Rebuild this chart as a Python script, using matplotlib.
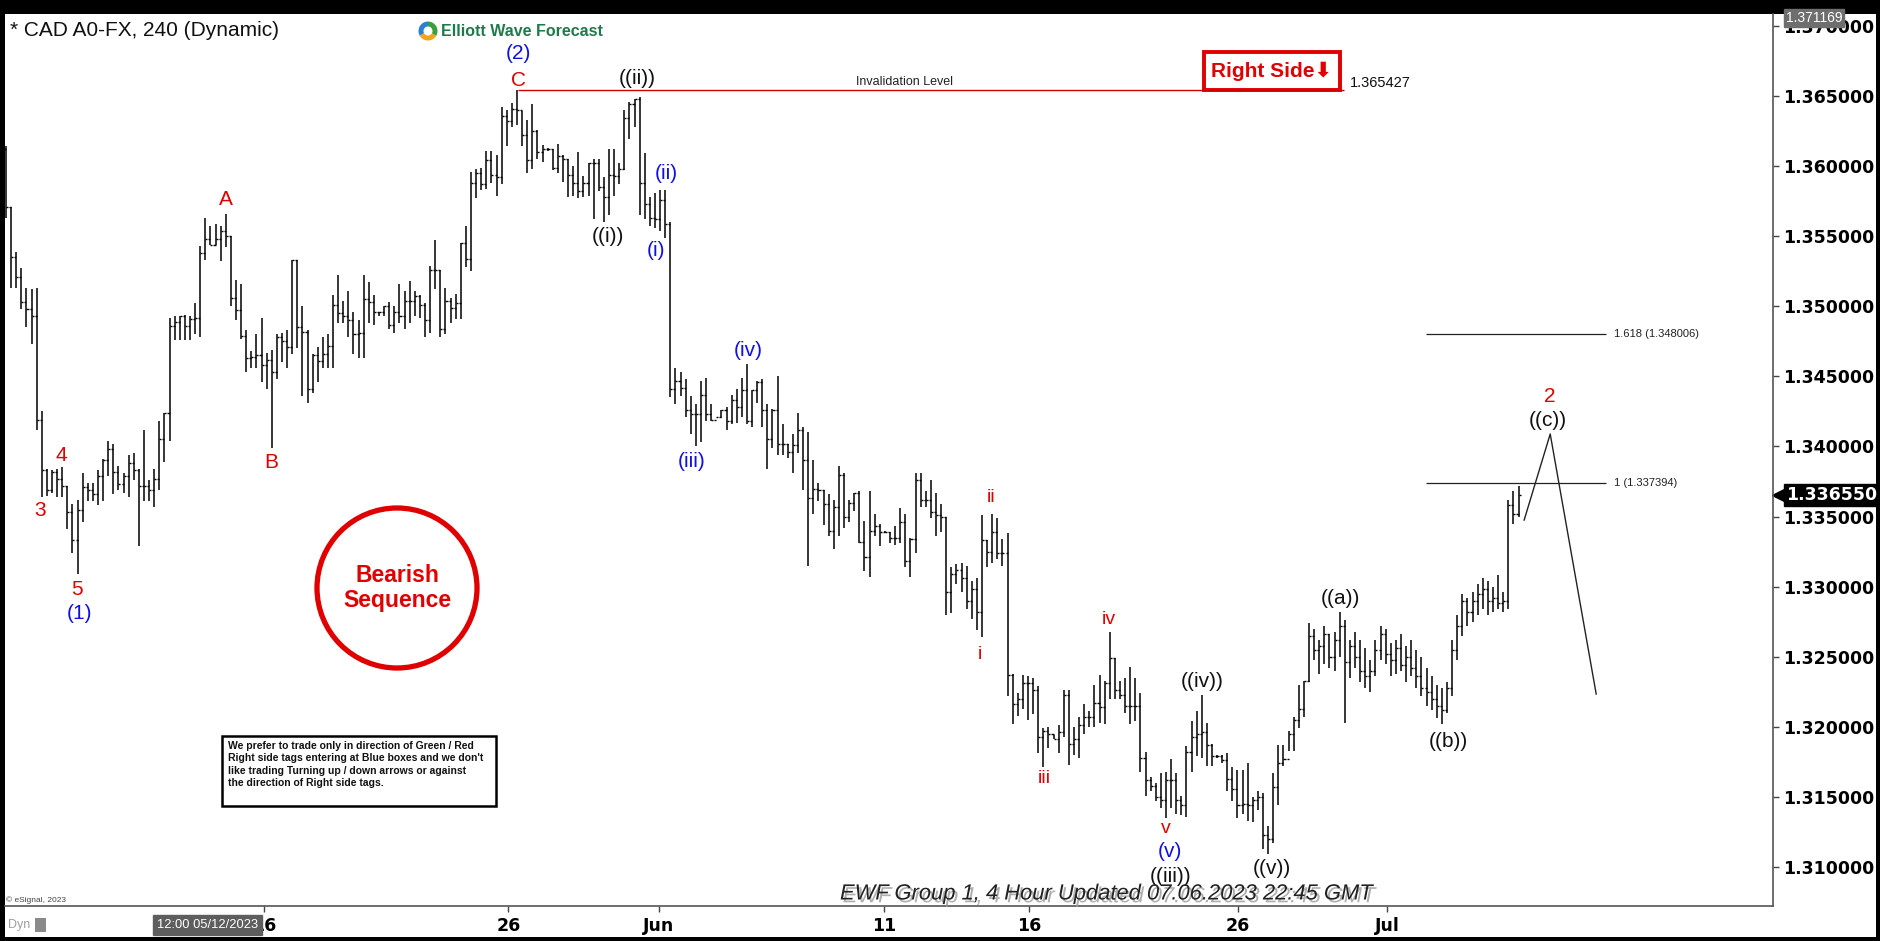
import numpy as np
import matplotlib.pyplot as plt
from matplotlib import patches
import matplotlib.patheffects as pe
from matplotlib.transforms import blended_transform_factory

plt.rcParams['font.family'] = ['Liberation Sans', 'DejaVu Sans']

W, H = 1881, 941

# 4 hour bars (high / low / close)
highs = [
    1.3614, 1.3571, 1.3539, 1.3527, 1.3513, 1.3512, 1.3513, 1.3425, 1.3384, 1.3383,
    1.3384, 1.3385, 1.3372, 1.3359, 1.3362, 1.3381, 1.3374, 1.3374, 1.3383, 1.3391,
    1.3404, 1.3402, 1.3386, 1.3381, 1.3394, 1.3395, 1.3384, 1.3412, 1.3376, 1.3384,
    1.3418, 1.3424, 1.3492, 1.3493, 1.3493, 1.3494, 1.3493, 1.3502, 1.3543, 1.3563,
    1.3557, 1.3559, 1.3557, 1.3566, 1.3550, 1.3519, 1.3516, 1.3483, 1.3468, 1.3480,
    1.3492, 1.3467, 1.3469, 1.3480, 1.3481, 1.3483, 1.3533, 1.3533, 1.3500, 1.3483,
    1.3466, 1.3471, 1.3478, 1.3480, 1.3508, 1.3522, 1.3504, 1.3511, 1.3496, 1.3490,
    1.3522, 1.3517, 1.3508, 1.3496, 1.3500, 1.3503, 1.3500, 1.3516, 1.3511, 1.3518,
    1.3511, 1.3508, 1.3502, 1.3529, 1.3547, 1.3526, 1.3513, 1.3506, 1.3509, 1.3545,
    1.3557, 1.3596, 1.3598, 1.3599, 1.3611, 1.3611, 1.3608, 1.3642, 1.3640, 1.3645,
    1.36543, 1.3639, 1.3633, 1.3644, 1.3626, 1.3615, 1.3613, 1.3612, 1.3616, 1.3608,
    1.3605, 1.3600, 1.3610, 1.3593, 1.3602, 1.3605, 1.3605, 1.3592, 1.3612, 1.3612,
    1.3602, 1.3640, 1.3646, 1.3648, 1.3649, 1.3609, 1.3578, 1.3581, 1.3583, 1.3583,
    1.3560, 1.3456, 1.3453, 1.3448, 1.3436, 1.3430, 1.3447, 1.3449, 1.3430, 1.3421,
    1.3426, 1.3428, 1.3437, 1.3441, 1.3449, 1.3459, 1.3440, 1.3447, 1.3448, 1.3430,
    1.3427, 1.3450, 1.3416, 1.3402, 1.3409, 1.3424, 1.3414, 1.3410, 1.3390, 1.3374,
    1.3369, 1.3366, 1.3362, 1.3386, 1.3381, 1.3362, 1.3367, 1.3368, 1.3347, 1.3368,
    1.3352, 1.3345, 1.3340, 1.3339, 1.3343, 1.3356, 1.3352, 1.3335, 1.3381, 1.3381,
    1.3368, 1.3376, 1.3367, 1.3359, 1.3350, 1.3314, 1.3316, 1.3317, 1.3315, 1.3304,
    1.3306, 1.3351, 1.3333, 1.3352, 1.3349, 1.3334, 1.3338, 1.3238, 1.3224, 1.3237,
    1.3236, 1.3235, 1.3229, 1.3199, 1.3200, 1.3194, 1.3201, 1.3226, 1.3226, 1.3200,
    1.3207, 1.3216, 1.3211, 1.3230, 1.3237, 1.3233, 1.3268, 1.3249, 1.3233, 1.3235,
    1.3243, 1.3235, 1.3224, 1.3182, 1.3164, 1.3160, 1.3167, 1.3168, 1.3177, 1.3167,
    1.3151, 1.3186, 1.3204, 1.3211, 1.3223, 1.3203, 1.3188, 1.3180, 1.3180, 1.3181,
    1.3171, 1.3169, 1.3169, 1.3174, 1.3150, 1.3154, 1.3153, 1.3129, 1.3167, 1.3187,
    1.3187, 1.3197, 1.3207, 1.3230, 1.3233, 1.3274, 1.3270, 1.3262, 1.3272, 1.3266,
    1.3268, 1.3282, 1.3276, 1.3262, 1.3268, 1.3262, 1.3256, 1.3248, 1.3262, 1.3272,
    1.3270, 1.3260, 1.3262, 1.3266, 1.3258, 1.3262, 1.3255, 1.3250, 1.3242, 1.3236,
    1.3230, 1.3228, 1.3232, 1.3262, 1.3280, 1.3295, 1.3292, 1.3296, 1.3302, 1.3306,
    1.3304, 1.3300, 1.3308, 1.3296, 1.3362, 1.3368, 1.3372,
]
lows = [
    1.3563, 1.3513, 1.3513, 1.3498, 1.3485, 1.3473, 1.3412, 1.3364, 1.3365, 1.3367,
    1.3364, 1.3364, 1.3341, 1.3324, 1.3309, 1.3346, 1.3361, 1.3361, 1.3358, 1.3361,
    1.3379, 1.3366, 1.3369, 1.3367, 1.3364, 1.3376, 1.3329, 1.3361, 1.3361, 1.3357,
    1.3369, 1.3389, 1.3404, 1.3476, 1.3476, 1.3476, 1.3476, 1.3480, 1.3478, 1.3533,
    1.3544, 1.3544, 1.3532, 1.3542, 1.3500, 1.3490, 1.3477, 1.3453, 1.3456, 1.3456,
    1.3446, 1.3441, 1.3399, 1.3448, 1.3460, 1.3456, 1.3466, 1.3470, 1.3436, 1.3431,
    1.3438, 1.3446, 1.3456, 1.3456, 1.3456, 1.3488, 1.3488, 1.3478, 1.3466, 1.3463,
    1.3463, 1.3488, 1.3487, 1.3493, 1.3493, 1.3484, 1.3481, 1.3488, 1.3484, 1.3488,
    1.3493, 1.3492, 1.3478, 1.3481, 1.3512, 1.3478, 1.3480, 1.3488, 1.3491, 1.3491,
    1.3528, 1.3525, 1.3577, 1.3583, 1.3584, 1.3588, 1.3579, 1.3587, 1.3614, 1.3628,
    1.3629, 1.3614, 1.3595, 1.3598, 1.3605, 1.3603, 1.3611, 1.3597, 1.3595, 1.3589,
    1.3578, 1.3579, 1.3577, 1.3578, 1.3579, 1.3562, 1.3582, 1.3560, 1.3565, 1.3579,
    1.3587, 1.3597, 1.3619, 1.3628, 1.3565, 1.3562, 1.3557, 1.3556, 1.3554, 1.3549,
    1.3435, 1.3430, 1.3436, 1.3421, 1.3409, 1.3400, 1.3403, 1.3418, 1.3418, 1.3421,
    1.3420, 1.3412, 1.3416, 1.3417, 1.3421, 1.3416, 1.3414, 1.3431, 1.3414, 1.3384,
    1.3399, 1.3394, 1.3394, 1.3392, 1.3381, 1.3395, 1.3369, 1.3315, 1.3352, 1.3361,
    1.3344, 1.3336, 1.3327, 1.3336, 1.3342, 1.3346, 1.3354, 1.3331, 1.3311, 1.3307,
    1.3336, 1.3329, 1.3338, 1.3331, 1.3330, 1.3331, 1.3314, 1.3307, 1.3324, 1.3357,
    1.3357, 1.3349, 1.3336, 1.3339, 1.3280, 1.3281, 1.3302, 1.3296, 1.3284, 1.3277,
    1.3269, 1.3264, 1.3314, 1.3317, 1.3320, 1.3315, 1.3222, 1.3202, 1.3208, 1.3213,
    1.3205, 1.3209, 1.3181, 1.3171, 1.3185, 1.3191, 1.3181, 1.3193, 1.3173, 1.3180,
    1.3178, 1.3195, 1.3200, 1.3200, 1.3203, 1.3202, 1.3220, 1.3220, 1.3220, 1.3210,
    1.3202, 1.3204, 1.3168, 1.3151, 1.3154, 1.3147, 1.3142, 1.3135, 1.3142, 1.3138,
    1.3137, 1.3136, 1.3168, 1.3179, 1.3178, 1.3172, 1.3172, 1.3178, 1.3174, 1.3154,
    1.3147, 1.3135, 1.3138, 1.3133, 1.3132, 1.3141, 1.3113, 1.3109, 1.3117, 1.3144,
    1.3172, 1.3183, 1.3183, 1.3199, 1.3207, 1.3232, 1.3248, 1.3238, 1.3245, 1.3242,
    1.3240, 1.3250, 1.3203, 1.3235, 1.3242, 1.3232, 1.3228, 1.3225, 1.3236, 1.3248,
    1.3245, 1.3236, 1.3238, 1.3240, 1.3232, 1.3236, 1.3228, 1.3222, 1.3215, 1.3212,
    1.3206, 1.3202, 1.3210, 1.3222, 1.3248, 1.3265, 1.3272, 1.3275, 1.3280, 1.3284,
    1.3280, 1.3282, 1.3284, 1.3282, 1.3284, 1.3345, 1.3350,
]
closes = [
    1.3571, 1.3535, 1.3521, 1.3503, 1.3498, 1.3493, 1.3419, 1.3383, 1.3369, 1.3382,
    1.3377, 1.3372, 1.3353, 1.3333, 1.3355, 1.3371, 1.3369, 1.3366, 1.3379, 1.3390,
    1.3398, 1.3382, 1.3373, 1.3379, 1.3388, 1.3383, 1.3372, 1.3372, 1.3369, 1.3377,
    1.3405, 1.3424, 1.3486, 1.3489, 1.3493, 1.3486, 1.3491, 1.3492, 1.3538, 1.3548,
    1.3544, 1.3548, 1.3554, 1.3550, 1.3506, 1.3497, 1.3479, 1.3463, 1.3464, 1.3465,
    1.3458, 1.3462, 1.3453, 1.3478, 1.3475, 1.3471, 1.3533, 1.3485, 1.3482, 1.3441,
    1.3465, 1.3461, 1.3466, 1.3472, 1.3501, 1.3495, 1.3493, 1.3490, 1.3480, 1.3481,
    1.3505, 1.3503, 1.3496, 1.3496, 1.3500, 1.3487, 1.3496, 1.3493, 1.3504, 1.3504,
    1.3507, 1.3501, 1.3490, 1.3526, 1.3526, 1.3484, 1.3504, 1.3499, 1.3502, 1.3545,
    1.3534, 1.3588, 1.3595, 1.3587, 1.3604, 1.3594, 1.3592, 1.3636, 1.3632, 1.3641,
    1.3640, 1.3622, 1.3604, 1.3625, 1.3610, 1.3612, 1.3612, 1.3599, 1.3607, 1.3605,
    1.3594, 1.3588, 1.3582, 1.3588, 1.3602, 1.3602, 1.3585, 1.3578, 1.3594, 1.3593,
    1.3598, 1.3634, 1.3644, 1.3648, 1.3588, 1.3573, 1.3563, 1.3562, 1.3576, 1.3559,
    1.3441, 1.3447, 1.3442, 1.3426, 1.3423, 1.3423, 1.3437, 1.3423, 1.3419, 1.3421,
    1.3426, 1.3418, 1.3433, 1.3428, 1.3440, 1.3418, 1.3440, 1.3446, 1.3426, 1.3405,
    1.3426, 1.3402, 1.3402, 1.3396, 1.3401, 1.3412, 1.3390, 1.3363, 1.3370, 1.3369,
    1.3359, 1.3340, 1.3357, 1.3380, 1.3350, 1.3360, 1.3367, 1.3332, 1.3321, 1.3340,
    1.3343, 1.3339, 1.3339, 1.3335, 1.3335, 1.3346, 1.3318, 1.3334, 1.3376, 1.3362,
    1.3362, 1.3353, 1.3351, 1.3350, 1.3296, 1.3309, 1.3312, 1.3306, 1.3290, 1.3298,
    1.3282, 1.3333, 1.3325, 1.3339, 1.3324, 1.3324, 1.3237, 1.3216, 1.3220, 1.3231,
    1.3231, 1.3226, 1.3193, 1.3197, 1.3195, 1.3191, 1.3196, 1.3223, 1.3188, 1.3191,
    1.3201, 1.3207, 1.3207, 1.3217, 1.3214, 1.3231, 1.3249, 1.3226, 1.3223, 1.3215,
    1.3215, 1.3215, 1.3178, 1.3162, 1.3158, 1.3150, 1.3148, 1.3162, 1.3162, 1.3148,
    1.3144, 1.3182, 1.3193, 1.3195, 1.3196, 1.3187, 1.3179, 1.3179, 1.3176, 1.3163,
    1.3156, 1.3144, 1.3145, 1.3144, 1.3148, 1.3150, 1.3123, 1.3120, 1.3157, 1.3174,
    1.3177, 1.3195, 1.3205, 1.3213, 1.3233, 1.3265, 1.3255, 1.3258, 1.3266, 1.3250,
    1.3262, 1.3272, 1.3246, 1.3258, 1.3250, 1.3240, 1.3236, 1.3240, 1.3255, 1.3266,
    1.3252, 1.3248, 1.3256, 1.3244, 1.3250, 1.3242, 1.3236, 1.3228, 1.3225, 1.3220,
    1.3215, 1.3212, 1.3228, 1.3255, 1.3272, 1.3290, 1.3282, 1.3290, 1.3295, 1.3298,
    1.3290, 1.3292, 1.3288, 1.3290, 1.3358, 1.3352, 1.33655,
]
first_open = 1.3612
opens = [first_open] + closes[:-1]

date_ticks = [50.5, 98.3, 127.8, 171.8, 200.2, 241.1, 270.3]
date_labels = ['16', '26', 'Jun', '11', '16', '26', 'Jul']

invalidation = 1.365427
fib_levels = [1.348006, 1.337394]
fib_names = ['1.618 (1.348006)', '1 (1.337394)']
last_price = 1.33655
top_price = 1.371169

# projected path for wave 2 and the turn lower
proj_x = [297.1, 302.2, 311.2]
proj_y = [1.33475, 1.34089, 1.32234]

# wave labels: text, bar position, price, colour, size
RED, BLUE, BLK = '#e10000', '#1010e0', '#111111'
wave_labels = [
    ('(2)', 100.2, 1.36800, BLUE, 15), ('C', 100.2, 1.36614, RED, 15),
    ('((ii))', 123.5, 1.36628, BLK, 15), ('A', 43.1, 1.35765, RED, 15),
    ('B', 51.9, 1.33889, RED, 15), ('3', 6.7, 1.33540, RED, 15),
    ('4', 10.8, 1.33939, RED, 15), ('5', 13.9, 1.32983, RED, 15),
    ('(1)', 14.3, 1.32805, BLUE, 15), ('((i))', 117.8, 1.35501, BLK, 15),
    ('(i)', 127.2, 1.35401, BLUE, 15), ('(ii)', 129.2, 1.35944, BLUE, 15),
    ('(iii)', 134.1, 1.33896, BLUE, 15), ('(iv)', 145.2, 1.34688, BLUE, 15),
    ('ii', 192.8, 1.33639, RED, 14), ('i', 190.6, 1.32519, RED, 14),
    ('iii', 203.1, 1.31635, RED, 14), ('iv', 215.9, 1.32769, RED, 14),
    ('v', 227.0, 1.31278, RED, 14), ('(v)', 227.8, 1.31114, BLUE, 15),
    ('((iii))', 228.0, 1.30929, BLK, 15), ('((iv))', 234.1, 1.32320, BLK, 15),
    ('((v))', 247.8, 1.30993, BLK, 15), ('((a))', 261.1, 1.32919, BLK, 15),
    ('((b))', 282.2, 1.31892, BLK, 15), ('2', 302.2, 1.34360, RED, 15),
    ('((c))', 301.8, 1.34182, BLK, 15),
]


def fpx(x, y):
    return x / W, 1 - y / H


def inch(x, y):
    return x / 100, (H - y) / 100


fig = plt.figure(figsize=(W / 100, H / 100), dpi=100, facecolor='black')
fig.add_artist(patches.Rectangle(fpx(5, 937), 1871 / W, 923 / H,
                                 transform=fig.transFigure, fc='white', ec='none', zorder=-10))

ax = fig.add_axes([5 / W, (H - 906) / H, 1768 / W, 892 / H])
ax.set_facecolor('white')
ax.set_xlim(-0.2, 345.8)
ax.set_ylim(1.30722, 1.37085)

x = np.arange(len(highs))
ax.vlines(x, lows, highs, color='black', lw=1.1)
ax.hlines(opens, x - 0.4, x, color='black', lw=1.0)
ax.hlines(closes, x, x + 0.4, color='black', lw=1.0)

# invalidation level
ax.hlines(invalidation, 100.2, 261.8, color='#d00000', lw=1.0)
ax.text(175.9, 1.36600, 'Invalidation Level', fontsize=9, ha='center', va='center', color='#222')
ax.text(263.0, 1.36590, '1.365427', fontsize=10.5, ha='left', va='center', color='#111')

# right side tag
ax.add_patch(patches.Rectangle((234.4, 1.36543), 26.7, 0.00271, fc='white', ec='#e00000', lw=2.8))
ax.text(247.7, 1.36678, 'Right Side\u2b07', color='#e00000', fontsize=15, fontweight='bold',
        ha='center', va='center', family=['Liberation Sans', 'DejaVu Sans'])

# fibonacci extensions
for lvl, name in zip(fib_levels, fib_names):
    ax.hlines(lvl, 277.9, 313.1, color='#222', lw=0.9)
    ax.text(314.6, lvl, name, fontsize=8, ha='left', va='center', color='#222')

ax.plot(proj_x, proj_y, color='#222', lw=1.0)

for s, lx, ly, c, fs in wave_labels:
    ax.text(lx, ly, s, color=c, fontsize=fs, ha='center', va='center')

# axes styling
for side in ['left', 'top']:
    ax.spines[side].set_visible(False)
for side in ['right', 'bottom']:
    ax.spines[side].set_color('#555')
    ax.spines[side].set_linewidth(1.2)

ax.yaxis.tick_right()
ax.set_yticks(np.arange(1.310, 1.3701, 0.005))
ax.yaxis.set_major_formatter(plt.FormatStrFormatter('%.6f'))
ax.tick_params(axis='y', direction='out', length=4, width=1, color='#444', pad=3, labelsize=12.5)
for lbl in ax.get_yticklabels():
    lbl.set_fontweight('bold')
    lbl.set_family('DejaVu Sans')

ax.set_xticks(date_ticks, date_labels)
ax.tick_params(axis='x', direction='out', length=4, width=1, color='#444', pad=4, labelsize=12.5)
for lbl in ax.get_xticklabels():
    lbl.set_fontweight('bold')
    lbl.set_family('DejaVu Sans')

# price tags on the scale
tr = blended_transform_factory(ax.transAxes, ax.transData)
ax.text(1.0075, last_price, '1.336550', transform=tr, ha='left', va='center', color='white',
        fontsize=12.5, fontweight='bold', family='DejaVu Sans', clip_on=False,
        bbox=dict(boxstyle='square,pad=0.12', fc='black', ec='black'))
ax.plot([1.003], [last_price], marker='<', ms=9, color='black', transform=tr, clip_on=False)
fig.text(*fpx(1786, 18), '1.371169', ha='left', va='center', color='white', fontsize=10,
         bbox=dict(boxstyle='square,pad=0.12', fc='#6e6e6e', ec='#6e6e6e'))

# header
fig.text(*fpx(10, 30), '* CAD A0-FX, 240 (Dynamic)', fontsize=15, ha='left', va='center', color='#111')
cx, cy = inch(428, 31)
for t1, t2, c in [(90, 210, '#2b7fd6'), (210, 330, '#f2a21c'), (330, 450, '#3c9e3c')]:
    fig.add_artist(patches.Wedge((cx, cy), 0.095, t1, t2, width=0.05, fc=c,
                                 transform=fig.dpi_scale_trans))
fig.text(*fpx(441, 31), 'Elliott Wave Forecast', fontsize=11.5, fontweight='bold',
         ha='left', va='center', color='#1f7a4a')

# bearish sequence stamp
fig.add_artist(patches.Circle(inch(397, 588), 0.80, fill=False, ec='#e00000', lw=3.8,
                              transform=fig.dpi_scale_trans))
fig.text(*fpx(397, 588), 'Bearish\nSequence', fontsize=16.5, fontweight='bold', color='#e00000',
         ha='center', va='center', linespacing=1.15)

# disclaimer box
fig.add_artist(patches.Rectangle(fpx(222, 806), 274 / W, 70 / H, transform=fig.transFigure,
                                 fc='white', ec='black', lw=1.8))
fig.text(*fpx(228, 741), "We prefer to trade only in direction of Green / Red\n"
         "Right side tags entering at Blue boxes and we don't\n"
         "like trading Turning up / down arrows or against\n"
         "the direction of Right side tags.",
         fontsize=7.5, fontweight='bold', ha='left', va='top', linespacing=1.3, color='#111')

# footer
fig.text(*fpx(840, 894), 'EWF Group 1, 4 Hour Updated 07.06.2023 22:45 GMT', fontsize=15.8,
         style='italic', ha='left', va='center', color='#222',
         path_effects=[pe.SimplePatchShadow(offset=(2, -2), shadow_rgbFace='#9a9a9a', alpha=0.8),
                       pe.Normal()])
fig.text(*fpx(6, 900), '\u00a9 eSignal, 2023', fontsize=6, ha='left', va='center', color='#444')
fig.text(*fpx(8, 925), 'Dyn', fontsize=9, ha='left', va='center', color='#a0a0a0')
fig.add_artist(patches.Rectangle(fpx(35, 932), 11 / W, 14 / H, transform=fig.transFigure,
                                 fc='#8a8a8a', ec='none'))
fig.text(*fpx(157, 925), '12:00 05/12/2023', fontsize=9.3, ha='left', va='center', color='white',
         bbox=dict(boxstyle='square,pad=0.3', fc='#5e5e5e', ec='#5e5e5e'))

fig.savefig('out.png', dpi=100, facecolor='black')
